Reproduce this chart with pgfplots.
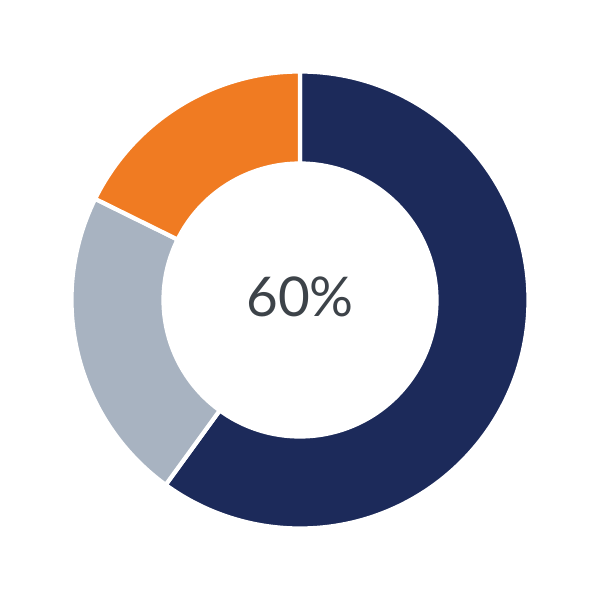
\documentclass[border=0pt]{standalone}
\usepackage{pgfplots}
\usepackage{pgfplotstable}
\pgfplotsset{compat=1.18}
\usepackage{fontspec}
\newfontfamily\lato{Lato}
\definecolor{navy}{HTML}{1C2A5A}
\definecolor{slate}{HTML}{A8B3C1}
\definecolor{orng}{HTML}{F07B22}
\definecolor{txt}{HTML}{3D4349}
\pgfplotstableread{
label value
Navy 60
Gray 22.3
Orange 17.7
}\datatable
\pgfplotstablegetelem{0}{value}\of\datatable \let\va\pgfplotsretval
\pgfplotstablegetelem{1}{value}\of\datatable \let\vb\pgfplotsretval
\pgfplotstablegetelem{2}{value}\of\datatable \let\vc\pgfplotsretval
\pgfmathsetmacro\aA{90}
\pgfmathsetmacro\aB{90-3.6*\va}
\pgfmathsetmacro\aC{\aB-3.6*\vb}
\pgfmathsetmacro\aD{\aC-3.6*\vc}
\def\Ro{2.285}
\def\Ri{1.365}
\newcommand\donutwedge[3]{%
  \fill[#3, draw=white, line width=1.2pt, line join=miter]
    (axis cs:{\Ro*cos(#1)},{\Ro*sin(#1)})
    arc[start angle=#1, end angle=#2, radius=\Ro cm]
    -- (axis cs:{\Ri*cos(#2)},{\Ri*sin(#2)})
    arc[start angle=#2, end angle=#1, radius=\Ri cm] -- cycle;}
\begin{document}
\begin{tikzpicture}
\begin{axis}[
  x=1cm, y=1cm, disabledatascaling,
  xmin=-3, xmax=3, ymin=-3, ymax=3,
  hide axis, clip=false]
\path (axis cs:-3,-3) rectangle (axis cs:3,3);
\donutwedge{\aA}{\aB}{navy}
\donutwedge{\aB}{\aC}{slate}
\donutwedge{\aC}{\aD}{orng}
\node[font=\lato\fontsize{15.6}{17}\selectfont, text=txt] at (axis cs:0,0.03) {60\%};
\end{axis}
\end{tikzpicture}
\end{document}
